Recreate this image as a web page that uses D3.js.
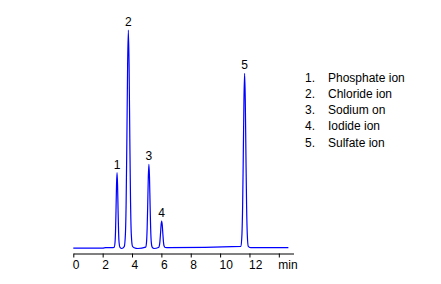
<!DOCTYPE html>
<html>
<head>
<meta charset="utf-8">
<script src="https://cdn.jsdelivr.net/npm/d3@7"></script>
<style>
  html, body { margin: 0; padding: 0; background: #fff; }
  svg { display: block; font-family: "Liberation Sans", Arial, sans-serif; }
</style>
</head>
<body>
<svg id="chart" width="441" height="284"></svg>
<script>
// Trace: retention time (min) and signal (arbitrary units)
const traceTime = [0, 2.0, 2.2, 2.6,
  2.78, 2.84, 2.875, 2.91, 2.945, 2.98, 3.015, 3.05, 3.085, 3.12, 3.18, 3.3,
  3.47, 3.55, 3.6, 3.65, 3.7, 3.75, 3.8, 3.85, 3.9, 3.95, 4.03, 4.15, 4.4,
  4.93, 4.99, 5.03, 5.07, 5.11, 5.15, 5.19, 5.23, 5.27, 5.31, 5.37, 5.5,
  5.8, 5.86, 5.9, 5.94, 5.98, 6.02, 6.06, 6.1, 6.14, 6.18, 6.26, 6.5,
  11.42, 11.49, 11.535, 11.58, 11.625, 11.67, 11.715, 11.76, 11.805, 11.85, 11.92, 12.1, 14.65];
const traceSignal = [-0.5, -0.5, 0, 0,
  0.3, 5, 15.8, 37.5, 63, 75, 63, 37.5, 15.8, 5, 0.3, -0.8,
  1, 13.7, 45.7, 108.9, 182.9, 217.7, 182.9, 108.9, 45.7, 13.7, 1.5, 0, -0.8,
  0.6, 5.8, 19.2, 43.4, 70.9, 83.4, 70.9, 43.4, 19.2, 5.8, 0.6, -0.8,
  0.2, 1.9, 6.1, 13.9, 22.7, 26.7, 22.7, 13.9, 6.1, 1.9, 0.2, 0,
  1.4, 14, 41.9, 92.4, 148.2, 174.4, 148.2, 92.4, 41.9, 14, 1.4, 0, 0];

// Peak labels
const peakNames = ["1", "2", "3", "4", "5"];
const peakTimes = [2.98, 3.75, 5.15, 6.02, 11.67];
const peakHeights = [75, 217.7, 83.4, 26.7, 174.4];

// Legend
const legendNumbers = ["1.", "2.", "3.", "4.", "5."];
const legendLabels = ["Phosphate ion", "Chloride ion", "Sodium on", "Iodide ion", "Sulfate ion"];

// Axis ticks
const tickValues = [0, 2, 4, 6, 8, 10, 12, 14];
const tickLabels = ["0", "2", "4", "6", "8", "10", "12", "min"];

const svg = d3.select("#chart");

const x = d3.scaleLinear().domain([0, 15]).range([73.3, 293.5]);
const y = d3.scaleLinear().domain([0, 217.7]).range([247.7, 30]);

// x axis
const axis = d3.axisBottom(x)
  .tickValues(tickValues)
  .tickSize(4)
  .tickSizeOuter(0)
  .tickFormat((d, i) => tickLabels[i]);

const gAxis = svg.append("g")
  .attr("transform", "translate(0,253.5)")
  .call(axis);
gAxis.select(".domain").attr("stroke", "#000").attr("stroke-width", 1);
gAxis.selectAll(".tick line").attr("stroke", "#000");
gAxis.selectAll(".tick text")
  .attr("text-anchor", "start")
  .attr("x", -1)
  .attr("fill", "#000")
  .style("font-size", "12px")
  .style("font-family", "'Liberation Sans', Arial, sans-serif");

// trace
const pts = traceTime.map((t, i) => [t, traceSignal[i]]);
const line = d3.line()
  .x(d => x(d[0]))
  .y(d => y(d[1]))
  .curve(d3.curveMonotoneX);

svg.append("path")
  .datum(pts)
  .attr("fill", "none")
  .attr("stroke", "#0000ff")
  .attr("stroke-width", 1.2)
  .attr("d", line);

// peak labels
svg.selectAll("text.peak")
  .data(peakNames)
  .enter().append("text")
  .attr("class", "peak")
  .attr("x", (d, i) => x(peakTimes[i]))
  .attr("y", (d, i) => y(peakHeights[i]) - 4)
  .attr("text-anchor", "middle")
  .style("font-size", "12px")
  .attr("fill", "#000")
  .text(d => d);

// legend
const lg = svg.append("g");
legendLabels.forEach((lab, i) => {
  const yy = 81.5 + i * 16.3;
  lg.append("text").attr("x", 305).attr("y", yy)
    .style("font-size", "12px").attr("fill", "#000").text(legendNumbers[i]);
  lg.append("text").attr("x", 328).attr("y", yy)
    .style("font-size", "12px").attr("fill", "#000").text(lab);
});
</script>
</body>
</html>
